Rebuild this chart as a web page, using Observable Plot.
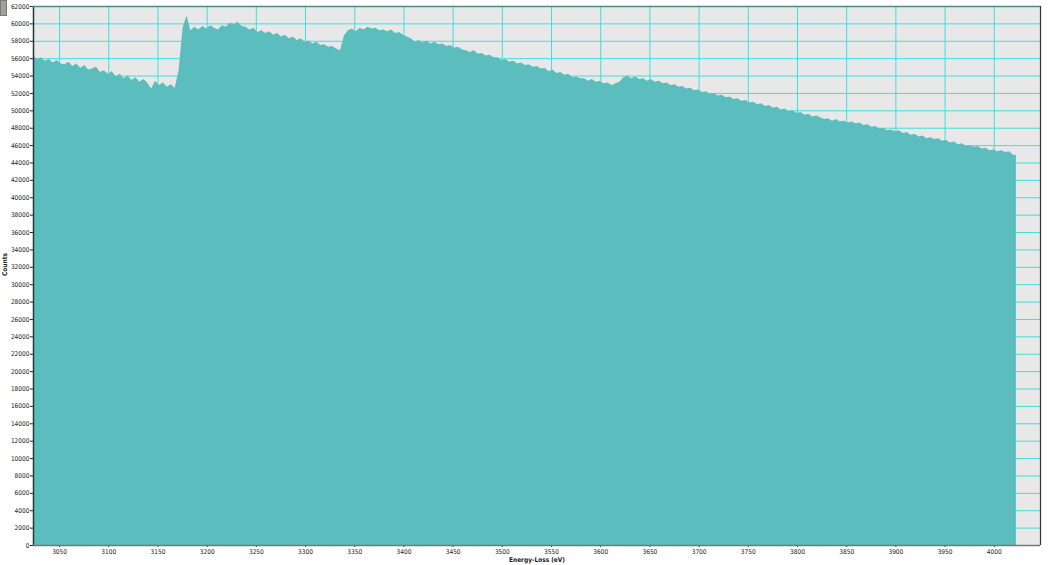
<!DOCTYPE html>
<html><head><meta charset="utf-8">
<script src="https://cdn.jsdelivr.net/npm/d3@7"></script>
<script src="https://cdn.jsdelivr.net/npm/@observablehq/plot@0.6"></script>
<style>
body{margin:0;background:#fff;font-family:"DejaVu Sans",sans-serif;}
#wrap{position:relative;width:1050px;height:565px;}
#corner{position:absolute;left:0;top:0;width:7px;height:16px;background:#a0a0a0;border:1px solid #7a7a7a;box-sizing:border-box;}
svg{display:block;}
</style></head><body>
<div id="wrap"><div id="corner"></div></div>
<script>
const startEnergy = 3023.5;   // eV of first channel
const energyStep = 4;         // eV per bin
const counts = [
  56300, 55900, 56100, 55700, 55900, 55500, 55800, 55400, 55300, 55600,
  55100, 55400, 54900, 55200, 54700, 54800, 55000, 54400, 54600, 54200,
  54500, 53900, 54200, 53700, 54000, 53500, 53800, 53300, 53600, 53200,
  52500, 53400, 52900, 53200, 52700, 53000, 52600, 54600, 59500, 60900,
  59200, 59600, 59300, 59700, 59400, 59800, 59500, 59300, 59800, 59600,
  60100, 59900, 60200, 59700, 59600, 59300, 59500, 59000, 59200, 58900,
  59100, 58700, 58900, 58500, 58700, 58300, 58500, 58100, 58300, 57900,
  58000, 57700, 57900, 57500, 57600, 57300, 57400, 57100, 56900, 58600,
  59200, 59400, 59100, 59500, 59300, 59600, 59400, 59500, 59200, 59300,
  59100, 59300, 58900, 59000, 58700, 58500, 58300, 57900, 58100, 57800,
  58000, 57700, 57900, 57600, 57700, 57400, 57500, 57200, 57300, 57000,
  56900, 56700, 56900, 56500, 56600, 56300, 56400, 56100, 56100, 55800,
  55900, 55600, 55700, 55400, 55500, 55200, 55300, 55000, 55100, 54800,
  54900, 54500, 54700, 54300, 54400, 54100, 54200, 53800, 53900, 53700,
  53700, 53400, 53600, 53300, 53400, 53100, 53200, 52900, 53100, 53300,
  53800, 54000, 53700, 53900, 53600, 53700, 53400, 53600, 53300, 53400,
  53100, 53200, 52900, 53000, 52700, 52800, 52500, 52600, 52300, 52400,
  52100, 52200, 51900, 52000, 51700, 51800, 51500, 51600, 51300, 51400,
  51100, 51200, 50900, 51000, 50700, 50800, 50500, 50600, 50300, 50400,
  50100, 50200, 49900, 50000, 49700, 49800, 49500, 49600, 49300, 49400,
  49200, 49000, 49100, 48800, 49000, 48700, 48800, 48600, 48700, 48500,
  48600, 48300, 48400, 48100, 48200, 47900, 48000, 47700, 47800, 47600,
  47700, 47400, 47500, 47200, 47300, 47000, 47100, 46800, 46900, 46700,
  46800, 46500, 46600, 46300, 46400, 46100, 46200, 45900, 46000, 45800,
  45900, 45600, 45700, 45400, 45500, 45300, 45400, 45200, 45300, 44900
];
const xTicks = [3050, 3100, 3150, 3200, 3250, 3300, 3350, 3400, 3450, 3500,
  3550, 3600, 3650, 3700, 3750, 3800, 3850, 3900, 3950, 4000];
const yTicks = [0, 2000, 4000, 6000, 8000, 10000, 12000, 14000, 16000, 18000,
  20000, 22000, 24000, 26000, 28000, 30000, 32000, 34000, 36000, 38000, 40000,
  42000, 44000, 46000, 48000, 50000, 52000, 54000, 56000, 58000, 60000, 62000];
const xLabel = "Energy-Loss (eV)";
const yLabel = "Counts";
const xDomain = [3023.5, 4047];

const data = counts.map((c, i) => ({energy: startEnergy + i * energyStep, counts: c}));
data.push({energy: startEnergy + counts.length * energyStep - 1, counts: counts[counts.length - 1]});

const fmt = d => String(d);
const tickFont = "'DejaVu Sans Condensed', 'DejaVu Sans', sans-serif";

const chart = Plot.plot({
  width: 1050, height: 565,
  marginTop: 6, marginBottom: 20, marginLeft: 33, marginRight: 10,
  x: {domain: xDomain, label: null},
  y: {domain: [0, 62000], label: null},
  style: {fontFamily: tickFont, fontSize: "7px", color: "#222", background: "transparent"},
  marks: [
    Plot.frame({fill: "#e8e8e8", stroke: null}),
    Plot.gridX(xTicks, {stroke: "#3fdede", strokeOpacity: 1}),
    Plot.gridY(yTicks, {stroke: "#3fdede", strokeOpacity: 1}),
    Plot.areaY(data, {x: "energy", y: "counts", curve: "linear", fill: "#5bbdbd"}),
    Plot.axisX(xTicks, {tickSize: 2, tickPadding: 2, tickFormat: fmt, label: null, fontSize: 6.5}),
    Plot.axisY(yTicks, {tickSize: 3, tickPadding: 1, tickFormat: fmt, label: null, fontSize: 6.5}),
    Plot.ruleX([xDomain[0]], {stroke: "#1e3b3b", strokeWidth: 1.5}),
    Plot.ruleX([xDomain[1]], {stroke: "#333", strokeWidth: 1.2}),
    Plot.ruleY([0], {stroke: "#777", strokeWidth: 1.5}),
    Plot.ruleY([62000], {stroke: "#4f8a7e", strokeWidth: 1.5}),
    Plot.text([xLabel], {frameAnchor: "bottom", dy: 16, lineAnchor: "bottom", fontWeight: "bold", fontSize: 6.5}),
    Plot.text([yLabel], {frameAnchor: "left", dx: -29, rotate: -90, fontWeight: "bold", fontSize: 6.5})
  ]
});
document.getElementById("wrap").appendChild(chart);
</script>
</body></html>
